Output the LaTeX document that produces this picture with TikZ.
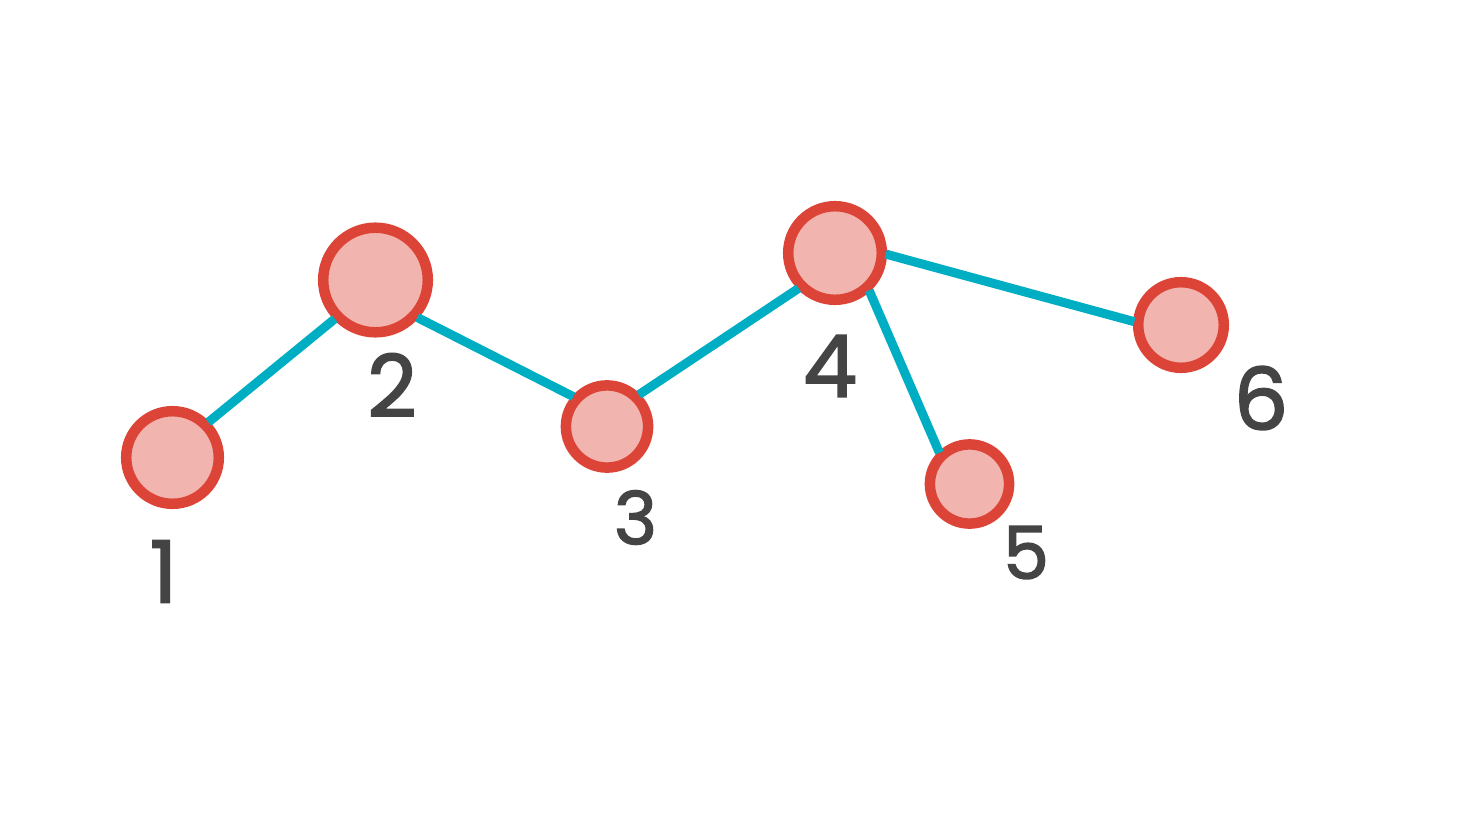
\documentclass[tikz,border=0pt]{standalone}
\usepackage{fontspec}
\setmainfont{Poppins}[FakeBold=2]
\definecolor{nodered}{HTML}{DD4438}
\definecolor{nodefill}{HTML}{F2B4AE}
\definecolor{edgecyan}{HTML}{00AEC4}
\definecolor{labelgray}{HTML}{444444}
\begin{document}
\begin{tikzpicture}[x=0.5pt,y=-0.5pt,
  vertex/.style={circle,draw=nodered,fill=nodefill,line width=5.25pt,inner sep=0pt,outer sep=0pt},
  link/.style={draw=edgecyan,line width=4.5pt,shorten <=2pt,shorten >=2pt},
  biglabel/.style={text=labelgray,inner sep=0pt,font=\fontsize{43}{43}\selectfont},
  smalllabel/.style={text=labelgray,inner sep=0pt,font=\fontsize{36.5}{36.5}\selectfont}]
\useasboundingbox[fill=white] (0,0) rectangle (1472,819);
\node[vertex,minimum size=46.3pt] (n1) at (172.5,457.5) {};
\node[vertex,minimum size=52.3pt] (n2) at (375.5,280) {};
\node[vertex,minimum size=41.1pt] (n3) at (607,426.5) {};
\node[vertex,minimum size=46.8pt] (n4) at (835,253) {};
\node[vertex,minimum size=39.6pt] (n5) at (969.5,484) {};
\node[vertex,minimum size=42.8pt] (n6) at (1181,325) {};
\draw[link] (n1.45) -- (n2.224);
\draw[link] (n2.317) -- (n3.137);
\draw[link] (n3.46) -- (n4.225);
\draw[link] (n4.314) -- (n5.136);
\draw[link] (n4.0) -- (n6.177);
\node[biglabel] (l1) at (163.5,571.5) {1};
\node[biglabel] (l2) at (392,385) {2};
\node[smalllabel] (l3) at (635.5,517.5) {3};
\node[biglabel] (l4) at (830,366) {4};
\node[smalllabel] (l5) at (1026,552.5) {5};
\node[biglabel] (l6) at (1261,398) {6};
\end{tikzpicture}
\end{document}
